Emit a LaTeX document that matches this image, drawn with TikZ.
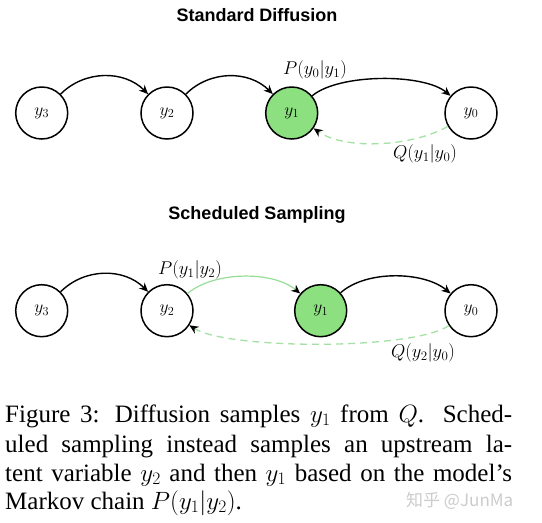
\documentclass[tikz,border=0pt]{standalone}
\usepackage[no-math]{fontspec}
\usepackage{fix-cm}
\setmainfont{Liberation Serif}
\newfontfamily\titlefont{Liberation Sans}
\newfontfamily\cjkfont{Noto Sans CJK SC}
\usetikzlibrary{arrows.meta}
\definecolor{nodegreen}{RGB}{140,224,128}
\definecolor{linegreen}{RGB}{150,222,150}
\definecolor{dashgreen}{RGB}{165,225,165}
\tikzset{
  var/.style={circle,draw=black,line width=1.5pt,minimum size=52pt,inner sep=0pt,fill=white,
    font=\fontsize{17.5}{20}\selectfont},
  obs/.style={var,fill=nodegreen},
  arr/.style={line width=1.4pt,-{Stealth[black,length=9pt,width=8pt]}},
  garr/.style={draw=linegreen,line width=1.2pt,-{Stealth[black,length=9pt,width=8pt]}},
  darr/.style={draw=dashgreen,line width=1.3pt,dash pattern=on 7pt off 5pt,-{Stealth[black,length=9pt,width=8pt]}},
  elab/.style={font=\fontsize{18.5}{22}\selectfont,inner sep=0pt},
  ttl/.style={font=\titlefont\bfseries\fontsize{18}{20}\selectfont,inner sep=0pt},
  capline/.style={anchor=base west,inner sep=0pt,font=\fontsize{25}{29}\selectfont},
}
\begin{document}
\begin{tikzpicture}[x=1pt,y=-1pt]
\useasboundingbox[fill=white] (0,0) rectangle (542,523);
% ---- Standard Diffusion
\node[ttl] (t1) at (257,15) {Standard Diffusion};
\node[var] (a3) at (41.7,113) {$y_3$};
\node[var] (a2) at (167,113) {$y_2$};
\node[obs] (a1) at (291.7,113) {$y_1$};
\node[var] (a0) at (471,113) {$y_0$};
\draw[arr] (a3) to[out=45,in=135,looseness=1] (a2);
\draw[arr] (a2) to[out=45,in=135,looseness=1] (a1);
\draw[arr] (a1) to[out=40,in=140,looseness=0.65] (a0);
\draw[darr] (a0) to[out=-150,in=-35,looseness=0.75] (a1);
\node[elab] (p1) at (315,70) {$P(y_0|y_1)$};
\node[elab] (q1) at (425,154) {$Q(y_1|y_0)$};
% ---- Scheduled Sampling
\node[ttl] (t2) at (257,215) {Scheduled Sampling};
\node[var] (b3) at (41.7,310.7) {$y_3$};
\node[var] (b2) at (167,310.7) {$y_2$};
\node[obs] (b1) at (320.7,310.7) {$y_1$};
\node[var] (b0) at (471,310.7) {$y_0$};
\draw[arr] (b3) to[out=45,in=135,looseness=1] (b2);
\draw[garr] (b2) to[out=40,in=140,looseness=0.8] (b1);
\draw[arr] (b1) to[out=42,in=140,looseness=0.8] (b0);
\draw[darr] (b0) to[out=-146,in=-33,looseness=0.44] (b2);
\node[elab] (p2) at (190,270) {$P(y_1|y_2)$};
\node[elab] (q2) at (423,353) {$Q(y_2|y_0)$};
% ---- Caption
\node[capline] (c1) at (5,422) {\makebox[507pt][s]{Figure 3: Diffusion samples $y_1$ from $Q$. Sched-}};
\node[capline] (c2) at (5,452) {\makebox[507pt][s]{uled sampling instead samples an upstream la-}};
\node[capline] (c3) at (5,481) {\makebox[507pt][s]{tent variable $y_2$ and then $y_1$ based on the model’s}};
\node[capline] (c4) at (5,509) {Markov chain $P(y_1|y_2)$.};
\node[anchor=base west,inner sep=0pt,text=black!20,font=\cjkfont\fontsize{17}{20}\selectfont] (wm) at (406,506) {知乎 @JunMa};
\end{tikzpicture}
\end{document}
